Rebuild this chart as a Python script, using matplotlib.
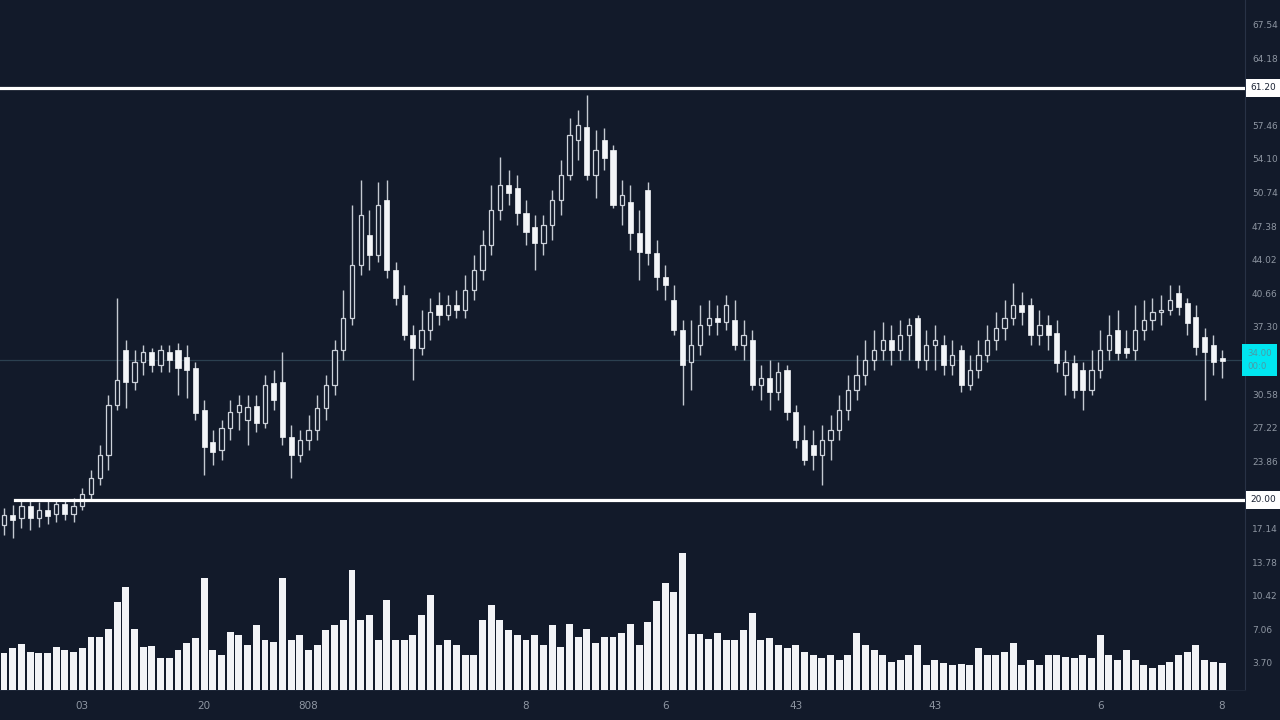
import numpy as np
import matplotlib
matplotlib.use("Agg")
import matplotlib.pyplot as plt
import matplotlib.transforms as mtransforms

# candle data (price points), one entry per bar
opens = [175, 185, 182, 194, 182, 190, 186, 196, 186, 194,
         206, 222, 245, 295, 350, 318, 338, 348, 335, 348,
         350, 343, 332, 290, 258, 250, 272, 288, 280, 294,
         277, 317, 318, 263, 245, 260, 270, 292, 315, 350,
         382, 435, 465, 445, 500, 430, 405, 365, 352, 370,
         395, 385, 395, 390, 410, 430, 455, 490, 515, 512,
         487, 473, 457, 475, 500, 525, 560, 573, 525, 560,
         550, 495, 498, 467, 510, 447, 423, 400, 370, 338,
         355, 375, 382, 378, 380, 355, 360, 315, 322, 308,
         330, 288, 260, 255, 245, 260, 270, 290, 310, 325,
         340, 350, 360, 350, 365, 382, 340, 355, 355, 335,
         350, 315, 330, 345, 360, 372, 382, 395, 395, 365,
         375, 367, 325, 337, 330, 310, 330, 350, 370, 352,
         350, 370, 380, 388, 390, 407, 397, 383, 363, 355,
         342]
closes = [185, 180, 194, 182, 190, 184, 196, 186, 194, 206,
          222, 245, 295, 320, 318, 338, 348, 335, 350, 340,
          332, 330, 287, 253, 248, 272, 288, 295, 293, 277,
          315, 300, 263, 245, 260, 270, 292, 315, 350, 382,
          435, 485, 445, 495, 430, 402, 365, 352, 370, 388,
          385, 395, 390, 410, 430, 455, 490, 515, 507, 487,
          468, 457, 475, 500, 525, 565, 575, 525, 550, 542,
          495, 505, 467, 448, 447, 423, 415, 370, 335, 355,
          375, 382, 378, 395, 355, 365, 315, 322, 308, 328,
          288, 260, 240, 245, 260, 270, 290, 310, 325, 340,
          350, 360, 350, 365, 375, 340, 355, 360, 335, 345,
          315, 330, 345, 360, 372, 382, 395, 388, 365, 375,
          365, 337, 338, 310, 310, 330, 350, 365, 347, 347,
          370, 380, 388, 390, 400, 393, 377, 353, 348, 338,
          339]
highs = [192, 195, 200, 200, 198, 200, 200, 200, 202, 212,
         230, 255, 305, 402, 360, 350, 355, 352, 355, 355,
         357, 355, 338, 300, 270, 280, 300, 305, 305, 305,
         325, 330, 348, 275, 270, 285, 305, 325, 360, 410,
         495, 520, 490, 518, 520, 438, 415, 375, 390, 402,
         408, 405, 410, 425, 445, 470, 515, 543, 530, 525,
         500, 485, 485, 510, 540, 582, 590, 605, 570, 572,
         555, 520, 515, 490, 518, 460, 435, 415, 380, 380,
         395, 400, 395, 405, 400, 380, 370, 335, 340, 338,
         335, 295, 275, 270, 275, 285, 305, 325, 345, 360,
         370, 378, 375, 380, 382, 385, 370, 375, 365, 360,
         355, 345, 360, 375, 388, 400, 417, 408, 402, 390,
         385, 380, 350, 345, 338, 350, 370, 385, 390, 370,
         395, 400, 402, 405, 415, 415, 402, 395, 372, 365,
         350]
lows = [165, 162, 172, 170, 173, 176, 178, 180, 178, 190,
        200, 215, 230, 290, 292, 310, 325, 328, 328, 328,
        305, 302, 280, 225, 235, 240, 260, 270, 255, 268,
        272, 290, 255, 222, 238, 250, 260, 280, 305, 340,
        375, 425, 430, 438, 422, 395, 360, 320, 345, 360,
        375, 380, 382, 382, 400, 420, 445, 480, 495, 475,
        455, 430, 445, 460, 485, 520, 540, 520, 502, 530,
        492, 475, 450, 420, 435, 410, 400, 365, 295, 310,
        345, 365, 365, 370, 350, 340, 310, 300, 290, 300,
        280, 252, 235, 230, 215, 240, 260, 280, 300, 315,
        330, 340, 335, 340, 340, 332, 330, 330, 325, 325,
        308, 310, 322, 338, 350, 360, 375, 375, 355, 355,
        350, 328, 305, 302, 290, 305, 322, 340, 340, 342,
        340, 360, 370, 375, 385, 385, 365, 345, 300, 325,
        322]
volume = [37, 42, 46, 38, 37, 37, 43, 40, 38, 42,
          53, 53, 61, 88, 103, 61, 43, 44, 32, 32,
          40, 47, 52, 112, 40, 35, 58, 55, 45, 65,
          50, 48, 112, 50, 55, 40, 45, 60, 65, 70,
          120, 70, 75, 50, 90, 50, 50, 55, 75, 95,
          45, 50, 45, 35, 35, 70, 85, 70, 60, 55,
          50, 55, 45, 65, 43, 66, 53, 61, 47, 53,
          53, 57, 66, 45, 68, 89, 107, 98, 137, 56,
          56, 51, 57, 50, 50, 60, 77, 50, 52, 45,
          42, 45, 38, 35, 32, 35, 30, 35, 57, 45,
          40, 35, 28, 30, 35, 45, 25, 30, 27, 25,
          26, 25, 42, 35, 35, 38, 47, 25, 30, 25,
          35, 35, 33, 32, 35, 32, 55, 35, 30, 40,
          30, 25, 22, 25, 28, 35, 38, 45, 30, 28,
          27]

level_hi = 612
level_lo = 200
last_price = 340

xtick_pos = [9, 23, 35, 60, 76, 91, 107, 126, 140]
xtick_labels = ["03", "20", "808", "8", "6", "43", "43", "6", "8"]

bg = "#121a2a"
grid_c = "#283246"
txt_c = "#8e96a2"

fig = plt.figure(figsize=(12.8, 7.2), dpi=100, facecolor=bg)
ax = fig.add_axes([0, 30 / 720, 1245 / 1280, 690 / 720], facecolor=bg)
ax2 = ax.twinx()

o = np.array(opens, dtype=float)
c = np.array(closes, dtype=float)
h = np.array(highs, dtype=float)
l = np.array(lows, dtype=float)
idx = np.arange(len(c))
up = c >= o

# wicks, then bodies (filled = falling, hollow = rising)
ax.vlines(idx, l, h, color="#c4c9d1", lw=1.0, zorder=2)
ax.bar(idx[~up], (o - c)[~up], bottom=c[~up], width=0.58,
       color="#f3f5f8", edgecolor="#f3f5f8", lw=0.5, zorder=3)
ax.bar(idx[up], (c - o)[up], bottom=o[up], width=0.5,
       facecolor=bg, edgecolor="#cdd2da", lw=0.9, zorder=3)

# level lines and last-price line
ax.axhline(last_price, color="#2b4050", lw=0.9, zorder=1)
ax.axhline(level_hi, color="white", lw=2.3, zorder=4)
ax.axhline(level_lo, xmin=0.012, color="white", lw=2.3, zorder=4)

ax.set_xlim(-0.46, 142.64)
ax.set_ylim(10, 700)

# scale ticks, leaving out the ones hidden behind the price boxes
yt = 37.0 + 33.6 * np.arange(20)
yt = np.array([v for v in yt
               if min(abs(v - level_hi), abs(v - level_lo), abs(v - last_price)) > 12])
ax.set_yticks(yt, [f"{v / 10:.2f}" for v in yt])
ax.yaxis.tick_right()
ax.tick_params(axis="y", length=0, pad=5, labelsize=6.5, labelcolor=txt_c)
ax.set_xticks(xtick_pos, xtick_labels)
ax.tick_params(axis="x", length=0, pad=8, labelsize=7.5, labelcolor=txt_c)

for side in ["top", "left"]:
    ax.spines[side].set_visible(False)
ax.spines["right"].set_color(grid_c)
ax.spines["bottom"].set_color("#1c2536")

# volume
ax2.bar(idx, volume, width=0.8, color="#f2f3f6", zorder=1)
ax2.set_ylim(0, 690)
ax2.yaxis.set_visible(False)
for s in ax2.spines.values():
    s.set_visible(False)

# price labels on the scale
trans = mtransforms.blended_transform_factory(ax.transAxes, ax.transData)
for lv in [level_hi, level_lo]:
    ax.text(1.004, lv, f"{lv / 10:.2f}", transform=trans, ha="left", va="center",
            fontsize=6.5, color="#1a2233", zorder=10, clip_on=False,
            bbox=dict(boxstyle="square,pad=0.45", fc="white", ec="none"))
ax.text(1.002, last_price, f"{last_price / 10:.2f}\n00:0", transform=trans,
        ha="left", va="center", fontsize=6.2, color="#4b9aa6", linespacing=1.5,
        zorder=10, clip_on=False,
        bbox=dict(boxstyle="square,pad=0.6", fc="#00e6f0", ec="none"))

fig.savefig("out.png", dpi=100, facecolor=bg)
